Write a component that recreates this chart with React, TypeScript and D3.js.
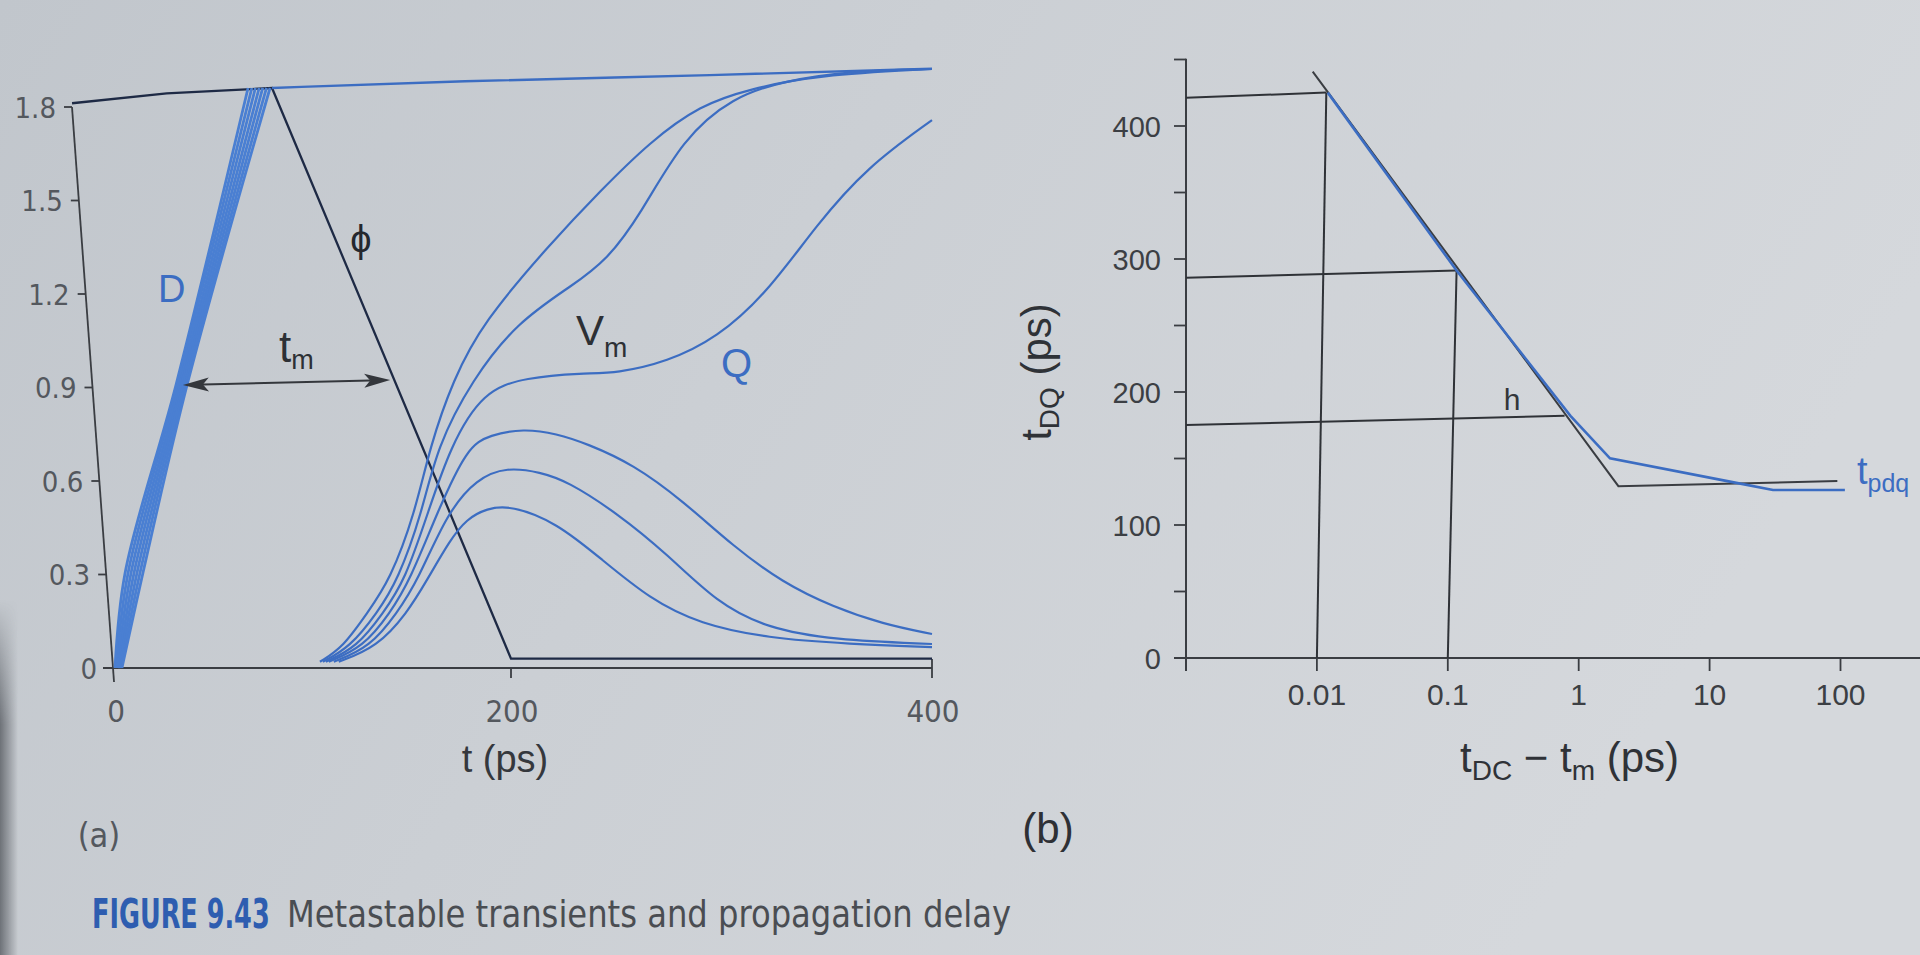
import React, { useEffect } from "react";
import * as d3 from "d3";

type P = [number, number];

// ---------------- Panel (a): metastable transients (t in ps, V in volts) ----------------
const aYTicks = [0, 0.3, 0.6, 0.9, 1.2, 1.5, 1.8];
const aYTickLabels = ["0", "0.3", "0.6", "0.9", "1.2", "1.5", "1.8"];
const aXTicks = [0, 200, 400];
const aXTickLabels = ["0", "200", "400"];

// D input ramps (a bundle of slightly shifted edges)
const dRamp1: P[] = [[0, 0], [5.1, 0.305], [30.8, 0.908], [67.2, 1.861]];
const dRamp2: P[] = [[0.6, 0], [6.6, 0.305], [31.7, 0.908], [69.1, 1.861]];
const dRamp3: P[] = [[1.2, 0], [8.1, 0.305], [32.7, 0.908], [70.9, 1.861]];
const dRamp4: P[] = [[1.8, 0], [9.6, 0.305], [33.6, 0.908], [72.8, 1.861]];
const dRamp5: P[] = [[2.3, 0], [11.1, 0.305], [34.5, 0.908], [74.6, 1.861]];
const dRamp6: P[] = [[2.9, 0], [12.6, 0.305], [35.5, 0.908], [76.5, 1.861]];
const dRamp7: P[] = [[3.5, 0], [14.1, 0.305], [36.4, 0.908], [78.3, 1.861]];

// D high rail after the ramps
const dHigh: P[] = [[79.3, 1.861], [169, 1.883], [299, 1.902], [400, 1.923]];

// clock phi
const clockPhi: P[] = [[-21.7, 1.812], [26.1, 1.844], [79.3, 1.861], [200, 0.03], [400, 0.03]];

// Q / Vm node transients
const riseA: P[] = [[103.5, 0.02], [115.2, 0.067], [127.3, 0.176], [138.9, 0.282], [151.5, 0.497], [159, 0.709], [170.7, 0.924], [185.9, 1.11], [218.5, 1.36], [242.3, 1.53], [266, 1.688], [289.8, 1.806], [313.5, 1.858], [345.4, 1.902], [400, 1.922]];
const riseB: P[] = [[105, 0.02], [118.7, 0.067], [132.3, 0.176], [142.9, 0.282], [155, 0.497], [162.6, 0.709], [180.3, 0.924], [202.9, 1.11], [229.5, 1.229], [245.6, 1.309], [261.3, 1.453], [281.7, 1.7], [305.5, 1.832], [329.2, 1.883], [361, 1.915], [400, 1.922]];
const riseQ: P[] = [[106.5, 0.02], [122.2, 0.067], [135.4, 0.176], [146.5, 0.282], [158, 0.497], [169.2, 0.709], [185.9, 0.889], [207, 0.932], [234.2, 0.946], [250.4, 0.946], [274.1, 0.982], [297.9, 1.059], [321.6, 1.203], [345.4, 1.424], [369.1, 1.607], [400, 1.758]];
const fallA: P[] = [[108, 0.02], [125.3, 0.067], [138.9, 0.176], [149, 0.282], [162.6, 0.497], [177.8, 0.709], [189.4, 0.748], [205.9, 0.768], [221.7, 0.752], [236, 0.72], [258, 0.654], [281.7, 0.536], [305.5, 0.391], [329.2, 0.273], [353, 0.196], [376.7, 0.141], [400, 0.109]];
const fallB: P[] = [[110.5, 0.02], [128.8, 0.067], [142.4, 0.176], [153, 0.282], [167.7, 0.497], [182.7, 0.608], [198, 0.645], [214, 0.628], [226.6, 0.6], [250.4, 0.497], [274.1, 0.366], [297.9, 0.209], [321.6, 0.128], [353, 0.09], [400, 0.077]];
const fallC: P[] = [[113, 0.02], [132.3, 0.067], [147.5, 0.176], [157.6, 0.282], [169.2, 0.411], [177.6, 0.478], [187.7, 0.512], [200, 0.522], [221.7, 0.466], [242.3, 0.353], [266, 0.221], [289.8, 0.141], [321.6, 0.096], [361, 0.077], [400, 0.067]];

// t_m dimension arrow (from D to phi)
const tmArrowFrom: P = [34.3, 0.908];
const tmArrowTo: P = [139, 0.924];

// ---------------- Panel (b): t_DQ vs t_DC - t_m ----------------
const bYTicks = [0, 100, 200, 300, 400];
const bYTickLabels = ["0", "100", "200", "300", "400"];
const bYMinorTicks = [50, 150, 250, 350, 450];
const bXTicks = [0.01, 0.1, 1, 10, 100];
const bXTickLabels = ["0.01", "0.1", "1", "10", "100"];

const tpdqCurve: P[] = [[0.01211, 425.1], [0.1167, 291.3], [0.865, 182.1], [1.734, 150.1], [14.3, 132.6], [30.5, 126.3], [108, 126.3]];
const asymptote: P[] = [[0.00929, 440.9], [2.01, 129.2], [94.6, 133]];
const guideH1: P[] = [[0.001, 421.3], [0.0118, 425.1]];
const guideV1: P[] = [[0.0118, 425.1], [0.01, 0]];
const guideH2: P[] = [[0.001, 285.9], [0.1167, 291.3]];
const guideV2: P[] = [[0.1167, 291.3], [0.1, 0]];
const guideH3: P[] = [[0.001, 175.1], [0.78, 182.1]];

// ---------------- styling ----------------
const BLUE = "#3c6dc2";
const BLUE_D = "#4a7fd2";
const INK = "#25282e";
const AXIS = "#3a3d42";
const GREY_TXT = "#54585e";
const NARROW = "'Liberation Sans Narrow', 'Arial Narrow', 'DejaVu Sans Condensed', sans-serif";
const SANS = "'Liberation Sans', Arial, Helvetica, sans-serif";

function arrowHead(tip: number[], from: number[], len = 26, half = 7) {
  const dx = tip[0] - from[0];
  const dy = tip[1] - from[1];
  const L = Math.hypot(dx, dy);
  const ux = dx / L, uy = dy / L;
  const bx = tip[0] - ux * len, by = tip[1] - uy * len;
  return `M${tip[0]},${tip[1]}L${bx - uy * half},${by + ux * half}L${bx + ux * 6},${by + uy * 6}L${bx + uy * half},${by - ux * half}Z`;
}

export default function App() {
  useEffect(() => {
    document.body.style.margin = "0";
    document.body.style.overflow = "hidden";
  }, []);

  const xA = d3.scaleLinear().domain([0, 200, 400]).range([115, 511, 932]);
  const yA = d3.scaleLinear().domain([0, 1.8]).range([668, 107]);
  const xB = d3.scaleLog().domain([0.001, 1000]).range([1186, 1186 + 130.9 * 6]);
  const yB = d3.scaleLinear().domain([0, 400]).range([658, 126]);

  const lineA = d3.line<P>().x((d) => xA(d[0])).y((d) => yA(d[1]));
  const rampA = d3.line<P>().x((d) => xA(d[0])).y((d) => yA(d[1])).curve(d3.curveCatmullRom.alpha(0.5));
  const smoothA = d3.line<P>().x((d) => xA(d[0])).y((d) => yA(d[1])).curve(d3.curveBasis);
  const lineB = d3.line<P>().x((d) => xB(d[0])).y((d) => yB(d[1]));

  // the photographed left axis leans to the left towards its top
  const axisLean = 41;
  const axisAx = (v: number) => xA(0) - 2 - axisLean * (v / 1.8);

  const dRamps = [dRamp1, dRamp2, dRamp3, dRamp4, dRamp5, dRamp6, dRamp7];
  const transients = [riseA, riseB, riseQ, fallA, fallB, fallC];

  const a0 = [xA(tmArrowFrom[0]), yA(tmArrowFrom[1])];
  const a1 = [xA(tmArrowTo[0]), yA(tmArrowTo[1])];

  const yAxisBx = xB(0.001);

  return (
    <svg width={1920} height={955} style={{ position: "absolute", left: 0, top: 0, display: "block" }}>
      <defs>
        <linearGradient id="paper" x1="0" y1="0" x2="1" y2="0.3">
          <stop offset="0" stopColor="#c1c6cc" />
          <stop offset="0.45" stopColor="#cbcfd4" />
          <stop offset="1" stopColor="#d5d8dc" />
        </linearGradient>
        <linearGradient id="edge" x1="0" y1="0" x2="1" y2="0">
          <stop offset="0" stopColor="#50545a" stopOpacity="0.75" />
          <stop offset="1" stopColor="#50545a" stopOpacity="0" />
        </linearGradient>
        <linearGradient id="edgeFade" x1="0" y1="0" x2="0" y2="1">
          <stop offset="0" stopColor="#fff" stopOpacity="0" />
          <stop offset="0.35" stopColor="#fff" stopOpacity="1" />
          <stop offset="1" stopColor="#fff" stopOpacity="1" />
        </linearGradient>
        <mask id="edgeMask">
          <rect x={0} y={600} width={30} height={355} fill="url(#edgeFade)" />
        </mask>
      </defs>
      <rect x={0} y={0} width={1920} height={955} fill="url(#paper)" />
      <rect x={0} y={600} width={18} height={355} fill="url(#edge)" mask="url(#edgeMask)" />

      {/* ================= Panel (a) ================= */}
      <g>
        {/* axes */}
        <line x1={axisAx(-0.045)} y1={yA(-0.045)} x2={axisAx(1.8)} y2={yA(1.8)} stroke={AXIS} strokeWidth={1.8} />
        <line x1={103} y1={yA(0)} x2={xA(400)} y2={yA(0)} stroke={AXIS} strokeWidth={2.2} />
        {aYTicks.map((v, i) => (
          <g key={"ay" + i}>
            <line x1={axisAx(v) - 8} y1={yA(v)} x2={axisAx(v)} y2={yA(v)} stroke={AXIS} strokeWidth={1.8} />
            <text x={axisAx(v) - 16} y={yA(v) + 10.5} textAnchor="end" fontFamily={NARROW} fontSize={29} fill={GREY_TXT}>
              {aYTickLabels[i]}
            </text>
          </g>
        ))}
        {aXTicks.map((t, i) => (
          <g key={"ax" + i}>
            {i > 0 && (
              <line x1={xA(t)} y1={yA(0) + (i === 2 ? -9 : 0)} x2={xA(t)} y2={yA(0) + 10} stroke={AXIS} strokeWidth={1.8} />
            )}
            <text x={xA(t) + 1} y={722} textAnchor="middle" fontFamily={NARROW} fontSize={31} fill={GREY_TXT}>
              {aXTickLabels[i]}
            </text>
          </g>
        ))}

        {/* clock phi */}
        <path d={lineA(clockPhi) || ""} fill="none" stroke="#1e2a45" strokeWidth={2.3} />

        {/* D ramps */}
        {dRamps.map((r, i) => (
          <path key={"d" + i} d={rampA(r) || ""} fill="none" stroke={BLUE_D} strokeWidth={2.8} />
        ))}
        <path d={smoothA(dHigh) || ""} fill="none" stroke={BLUE} strokeWidth={2.4} />

        {/* node transients */}
        {transients.map((c, i) => (
          <path key={"q" + i} d={smoothA(c) || ""} fill="none" stroke={BLUE} strokeWidth={2.2} />
        ))}

        {/* t_m arrow */}
        <line x1={a0[0] + 20} y1={a0[1] - 0.5} x2={a1[0] - 20} y2={a1[1] + 0.5} stroke="#34373c" strokeWidth={2} />
        <path d={arrowHead(a0, a1)} fill="#34373c" />
        <path d={arrowHead(a1, a0)} fill="#34373c" />

        {/* labels */}
        <text x={158} y={302} fontFamily={SANS} fontSize={38} fill={BLUE}>D</text>
        <text x={361} y={252} textAnchor="middle" fontFamily={SANS} fontSize={38} fill={INK}>ϕ</text>
        <text x={279} y={362} fontFamily={SANS} fontSize={44} fill="#2d3035">
          t<tspan fontSize={27} dy={7}>m</tspan>
        </text>
        <text x={576} y={345} fontFamily={SANS} fontSize={42} fill="#2d3035">
          V<tspan fontSize={28} dy={12}>m</tspan>
        </text>
        <text x={721} y={377} fontFamily={SANS} fontSize={40} fill={BLUE}>Q</text>

        <text x={505} y={772} textAnchor="middle" fontFamily={SANS} fontSize={38} fill="#35383d">t (ps)</text>
        <text x={99} y={847} textAnchor="middle" fontFamily={NARROW} fontSize={34} fill={GREY_TXT}>(a)</text>
      </g>

      {/* ================= Panel (b) ================= */}
      <g>
        {/* axes */}
        <line x1={yAxisBx} y1={yB(0) + 13} x2={yAxisBx} y2={yB(450.5)} stroke={AXIS} strokeWidth={2} />
        <line x1={yAxisBx - 12} y1={yB(0)} x2={1920} y2={yB(0)} stroke={AXIS} strokeWidth={2.2} />
        {bYTicks.map((v, i) => (
          <g key={"by" + i}>
            {v > 0 && <line x1={yAxisBx - 12} y1={yB(v)} x2={yAxisBx} y2={yB(v)} stroke={AXIS} strokeWidth={1.8} />}
            <text x={1161} y={yB(v) + 10.5} textAnchor="end" fontFamily={SANS} fontSize={29} fill="#3c3f44">
              {bYTickLabels[i]}
            </text>
          </g>
        ))}
        {bYMinorTicks.map((v, i) => (
          <line key={"bm" + i} x1={yAxisBx - 12} y1={yB(v)} x2={yAxisBx} y2={yB(v)} stroke={AXIS} strokeWidth={1.8} />
        ))}
        {bXTicks.map((v, i) => (
          <g key={"bx" + i}>
            <line x1={xB(v)} y1={yB(0)} x2={xB(v)} y2={yB(0) + 13} stroke={AXIS} strokeWidth={1.8} />
            <text x={xB(v)} y={705} textAnchor="middle" fontFamily={SANS} fontSize={30} fill="#3c3f44">
              {bXTickLabels[i]}
            </text>
          </g>
        ))}

        {/* construction lines */}
        {[guideH1, guideV1, guideH2, guideV2, guideH3].map((g, i) => (
          <path key={"g" + i} d={lineB(g) || ""} fill="none" stroke="#2f3237" strokeWidth={2} />
        ))}
        <path d={lineB(asymptote) || ""} fill="none" stroke="#3a3d42" strokeWidth={2} />
        <path d={lineB(tpdqCurve) || ""} fill="none" stroke={BLUE} strokeWidth={2.6} />

        {/* labels */}
        <text x={1512} y={410} textAnchor="middle" fontFamily={SANS} fontSize={30} fill="#33363b">h</text>
        <text x={1857} y={484} fontFamily={SANS} fontSize={38} fill={BLUE}>
          t<tspan fontSize={25} dy={8}>pdq</tspan>
        </text>

        <text x={1460} y={772} fontFamily={SANS} fontSize={42} fill="#2f3237">
          t<tspan fontSize={28} dy={8}>DC</tspan>
          <tspan dy={-8}> − t</tspan>
          <tspan fontSize={28} dy={8}>m</tspan>
          <tspan dy={-8}> (ps)</tspan>
        </text>
        <text
          transform={`translate(1051,372) rotate(-90)`}
          textAnchor="middle"
          fontFamily={SANS}
          fontSize={42}
          fill="#2f3237"
        >
          t<tspan fontSize={28} dy={8}>DQ</tspan>
          <tspan dy={-8}> (ps)</tspan>
        </text>

        <text x={1048} y={843} textAnchor="middle" fontFamily={SANS} fontSize={42} fill="#2e3035">(b)</text>
      </g>

      {/* ================= Caption ================= */}
      <text transform="translate(92,928) scale(0.71,1)" fontFamily={NARROW} fontWeight="bold" fontSize={40} fill="#2e5db0">
        FIGURE 9.43
      </text>
      <text x={287} y={927} fontFamily={NARROW} fontSize={38} fill="#4a4d52" textLength={724} lengthAdjust="spacingAndGlyphs">
        Metastable transients and propagation delay
      </text>
    </svg>
  );
}
